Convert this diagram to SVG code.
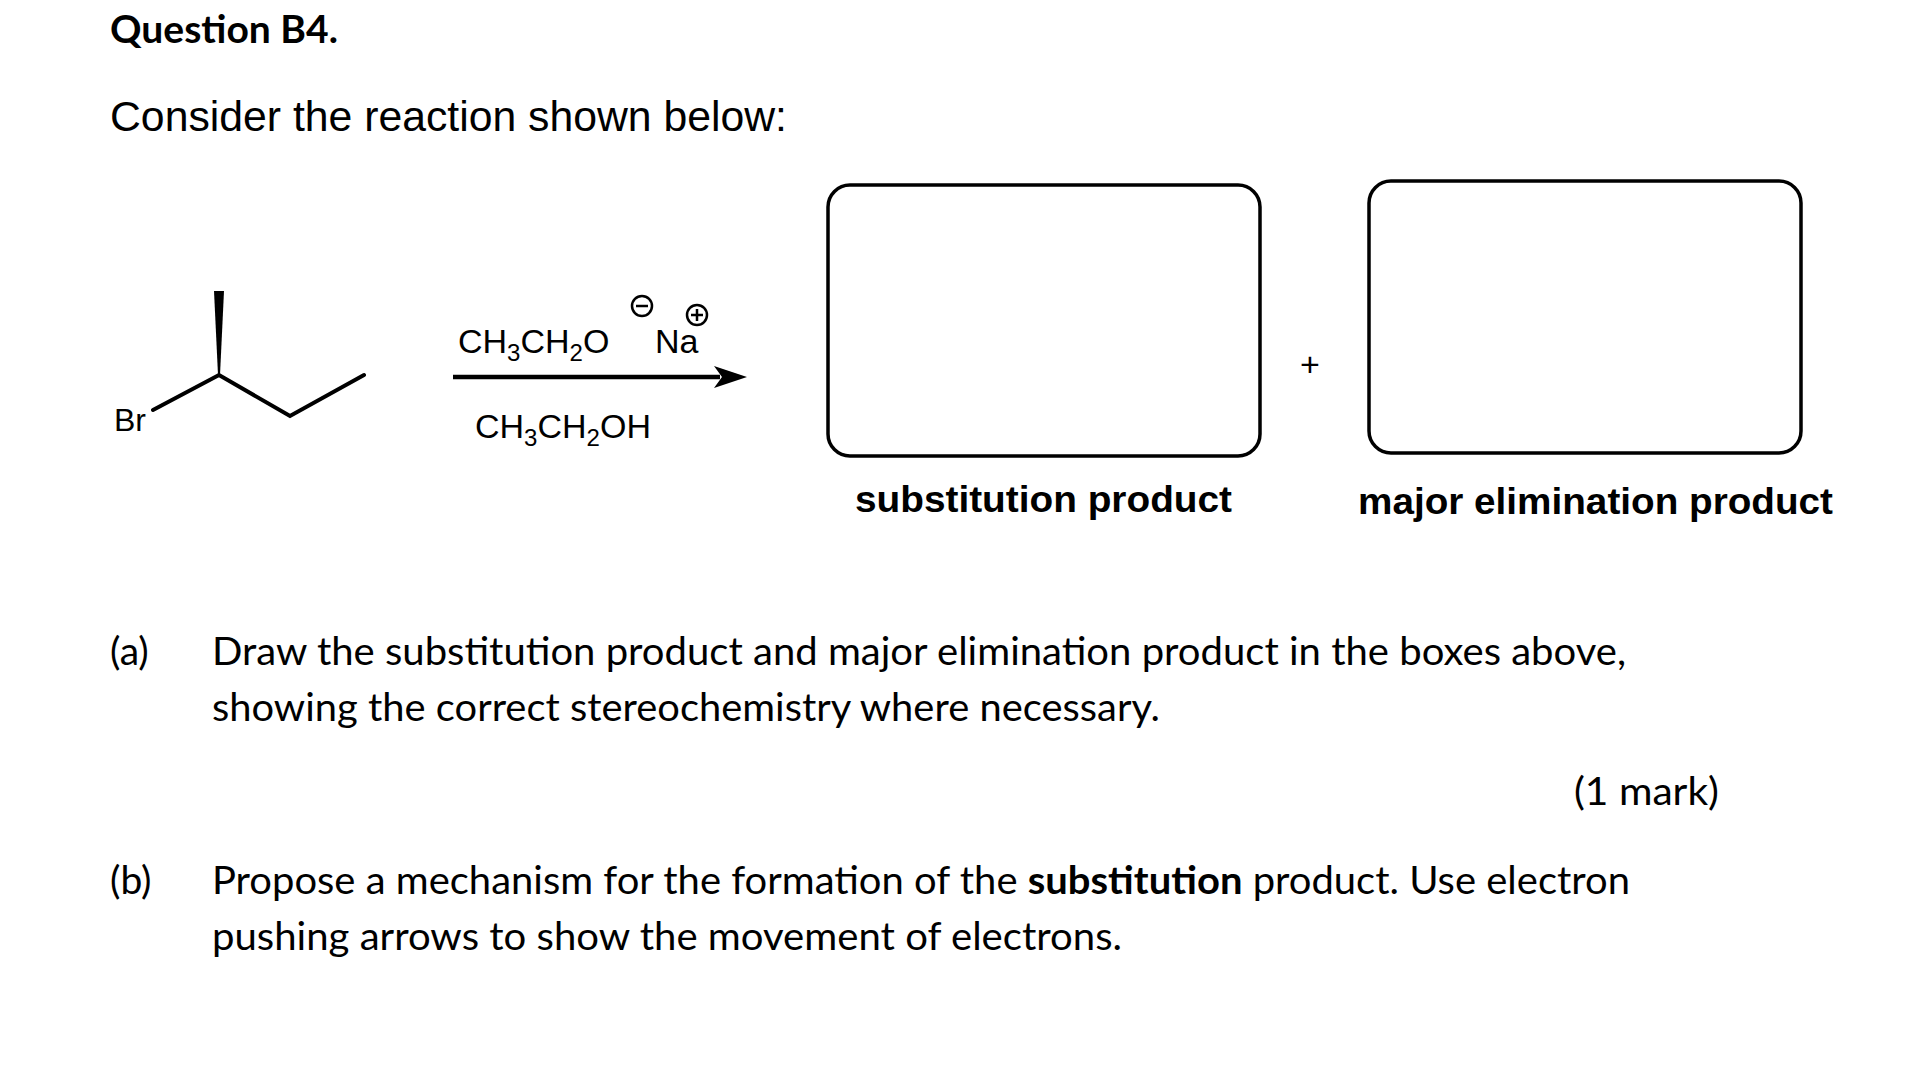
<svg xmlns="http://www.w3.org/2000/svg" width="1914" height="1090" viewBox="0 0 1914 1090">
<style>
.c{font-family:Lato,"Open Sans",sans-serif;font-size:39px;fill:#000}
.a{font-family:"Liberation Sans",Arial,sans-serif;fill:#000}
.box{fill:none;stroke:#000;stroke-width:3.5}
.bond{stroke:#000;stroke-width:4;fill:none;stroke-linecap:round}
</style>
<rect width="1914" height="1090" fill="#fff"/>
<text class="c" x="110" y="43" font-weight="bold" font-size="35" textLength="228" lengthAdjust="spacingAndGlyphs">Question B4.</text>
<text class="a" x="110" y="131" font-size="42" textLength="677" lengthAdjust="spacingAndGlyphs">Consider the reaction shown below:</text>
<g id="reactant">
<polygon points="214,291 224,291 220,375 218,375" fill="#000"/>
<polyline class="bond" points="153,410 219,375 290,416 364,375"/>
<text class="a" x="114" y="431" font-size="32">Br</text>
</g>
<g id="reagents">
<text class="a" x="458" y="353" font-size="34">CH<tspan font-size="24" dy="8">3</tspan><tspan dy="-8">CH</tspan><tspan font-size="24" dy="8">2</tspan><tspan dy="-8">O</tspan></text>
<text class="a" x="655" y="353" font-size="34">Na</text>
<circle cx="642" cy="306" r="10" fill="none" stroke="#000" stroke-width="2.5"/>
<line x1="636" y1="306" x2="648" y2="306" stroke="#000" stroke-width="2.5"/>
<circle cx="697" cy="315" r="10" fill="none" stroke="#000" stroke-width="2.5"/>
<path d="M691 315H703M697 309V321" stroke="#000" stroke-width="2.5"/>
<text class="a" x="475" y="438" font-size="34">CH<tspan font-size="24" dy="8">3</tspan><tspan dy="-8">CH</tspan><tspan font-size="24" dy="8">2</tspan><tspan dy="-8">OH</tspan></text>
</g>
<g id="connectors">
<line x1="453" y1="377" x2="720" y2="377" stroke="#000" stroke-width="4.5"/>
<polygon points="747,377 714,366 722,377 714,388" fill="#000"/>
</g>
<g id="box1"><rect class="box" x="828" y="185" width="432" height="271" rx="22"/>
<text class="a" x="855" y="512" font-size="36" font-weight="bold" textLength="377" lengthAdjust="spacingAndGlyphs">substitution product</text></g>
<text class="a" x="1310" y="376" font-size="34" text-anchor="middle">+</text>
<g id="box2"><rect class="box" x="1369" y="181" width="432" height="272" rx="22"/>
<text class="a" x="1358" y="514" font-size="36" font-weight="bold" textLength="475" lengthAdjust="spacingAndGlyphs">major elimination product</text></g>
<text class="c" x="110" y="665">(a)</text>
<text class="c" x="212" y="665" textLength="1414" lengthAdjust="spacingAndGlyphs">Draw the substitution product and major elimination product in the boxes above,</text>
<text class="c" x="212" y="721" textLength="948" lengthAdjust="spacingAndGlyphs">showing the correct stereochemistry where necessary.</text>
<text class="c" x="1574" y="805" textLength="145" lengthAdjust="spacingAndGlyphs">(1 mark)</text>
<text class="c" x="110" y="894">(b)</text>
<text class="c" x="212" y="894" textLength="1418" lengthAdjust="spacingAndGlyphs">Propose a mechanism for the formation of the <tspan font-weight="bold">substitution</tspan> product. Use electron</text>
<text class="c" x="212" y="950" textLength="910" lengthAdjust="spacingAndGlyphs">pushing arrows to show the movement of electrons.</text>
</svg>
